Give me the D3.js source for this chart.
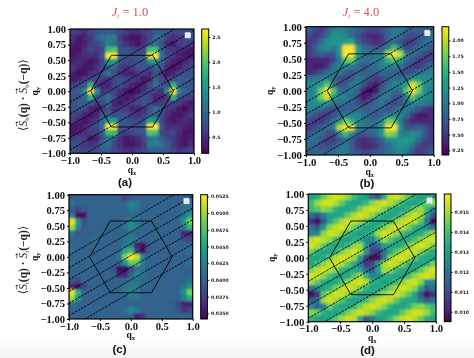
<!DOCTYPE html>
<html>
<head>
<meta charset="utf-8">
<script src="https://cdn.jsdelivr.net/npm/d3@7"></script>
<style>
  html, body { margin: 0; padding: 0; background: #fff; }
  svg { display: block; }
  text { font-family: "Liberation Serif", "DejaVu Serif", serif; }
</style>
</head>
<body>
<div id="chart"></div>
<script>
// structure factor maps, top row is qy = 1
const gridA = [
  [.7,.6,.5,.7,.8,.9,.9,.9,.7,.6,.5,.5,.6,.7,.9,.9,.8,.7,.7,.7,.8],
  [.5,.3,.4,.6,.9,1.1,1.2,1.2,.6,.4,.3,.3,.5,.7,1.1,1.0,.6,.5,.6,.7,.8],
  [.4,.3,.4,.6,.7,.9,1.2,1.1,.7,.5,.4,.3,.5,.8,1.1,.8,.4,.3,.6,.7,.6],
  [.3,.3,.5,.7,.6,.7,1.9,2.0,.8,.8,.7,.6,.7,1.9,1.9,.9,.6,.6,.5,.4,.3],
  [.3,.4,.5,.5,.5,.8,2.66,2.66,.9,.8,.8,.8,.8,2.6,2.66,1.1,.7,.6,.4,.3,.3],
  [.4,.5,.4,.3,.4,.7,1.5,1.6,.8,.7,.7,.8,.8,1.4,1.5,1.0,.6,.4,.3,.4,.6],
  [.6,.4,.3,.3,.5,.7,.9,.9,.6,.5,.6,.8,.8,.7,.9,.8,.4,.3,.4,.6,.7],
  [.4,.25,.3,.5,.6,.8,1.1,.8,.5,.4,.4,.6,.6,.5,.8,.6,.3,.4,.7,.8,.8],
  [.3,.4,.6,.7,.7,.6,.5,.7,.8,.7,.6,.5,.3,.4,1.0,.7,.6,.8,.9,.9,.8],
  [.6,.7,.8,1.8,.6,.4,.4,.7,.8,.6,.4,.3,.4,.7,1.1,.9,.8,1.8,.9,.8,.8],
  [.8,.9,1.3,2.66,1.4,.5,.6,.7,.5,.3,.2,.3,.5,.7,.6,.5,1.4,2.66,1.3,.9,.8],
  [.8,.8,.9,1.8,.8,.9,1.1,.7,.4,.3,.4,.6,.8,.7,.4,.4,.6,1.8,.8,.7,.6],
  [.8,.9,.9,.8,.6,.7,1.0,.4,.3,.5,.6,.7,.8,.7,.5,.6,.7,.7,.6,.4,.3],
  [.8,.8,.7,.4,.3,.6,.8,.5,.6,.6,.4,.4,.5,.8,1.1,.8,.6,.5,.3,.25,.4],
  [.7,.6,.4,.3,.4,.8,.9,.7,.8,.8,.6,.5,.6,.9,.9,.7,.5,.3,.3,.4,.6],
  [.6,.4,.3,.4,.6,1.0,1.5,1.6,.8,.8,.7,.7,.8,1.6,1.5,.7,.4,.3,.4,.5,.4],
  [.3,.3,.4,.6,.7,1.1,2.66,2.66,.8,.8,.8,.8,.9,2.66,2.66,.8,.5,.5,.5,.4,.3],
  [.3,.4,.5,.6,.6,.9,1.9,1.9,.7,.6,.7,.8,.8,2.0,1.9,.7,.6,.7,.5,.3,.3],
  [.6,.7,.6,.3,.4,.8,1.1,.8,.5,.3,.4,.5,.7,1.1,1.2,.9,.7,.6,.4,.3,.4],
  [.8,.7,.6,.5,.6,1.0,1.1,.7,.5,.3,.3,.4,.6,1.2,1.2,1.1,.9,.6,.4,.3,.5],
  [.8,.7,.7,.7,.8,.9,.9,.7,.6,.5,.5,.6,.7,.9,.9,.9,.8,.7,.5,.6,.7]
];
const gridB = [
  [.8,.6,.5,.7,1.0,1.1,1.0,.9,.8,.7,.6,.6,.7,.8,1.0,1.0,.9,.8,.8,.8,.8],
  [.6,.5,.6,.9,1.2,1.2,1.1,.9,.7,.5,.4,.4,.5,.8,1.0,.9,.7,.6,.7,.8,.9],
  [.5,.6,.9,1.2,1.3,1.2,1.3,1.4,.8,.6,.5,.4,.5,.8,.9,.7,.5,.5,.7,.9,.9],
  [.5,.8,1.1,1.2,1.0,1.2,2.22,2.22,1.3,.9,.8,.7,.8,1.1,1.6,1.1,.6,.7,.9,.9,.7],
  [.5,.7,.8,.7,.7,1.2,2.22,2.22,1.3,1.0,1.0,1.0,1.1,2.0,2.22,2.0,1.0,.9,.8,.6,.5],
  [.4,.4,.4,.4,.6,1.0,1.7,1.8,1.1,.9,.9,1.0,1.1,1.5,1.7,1.3,.9,.7,.5,.5,.6],
  [.4,.3,.3,.5,.9,1.1,1.1,1.0,.9,.7,.8,.9,1.1,1.1,1.0,.9,.7,.5,.5,.7,.9],
  [.4,.5,.7,.9,1.0,1.0,.8,.7,.8,.8,.8,.8,.9,.8,.8,.7,.6,.7,.9,1.0,1.1],
  [.9,1.0,1.1,1.1,.9,.7,.6,.7,1.0,.9,.7,.5,.6,.8,.9,.9,1.0,1.2,1.3,1.2,1.1],
  [1.1,1.2,1.3,1.7,1.0,.7,.7,1.0,1.0,.7,.4,.3,.6,.9,1.1,1.1,1.3,2.1,1.8,1.2,1.1],
  [1.0,1.2,1.8,2.22,1.7,.9,.9,1.0,.8,.3,.2,.3,.8,1.0,.9,.9,1.7,2.22,1.8,1.2,1.0],
  [1.1,1.2,1.8,2.1,1.3,1.1,1.1,.9,.6,.3,.4,.7,1.0,1.0,.7,.7,1.0,1.7,1.3,1.2,1.1],
  [1.1,1.2,1.3,1.2,1.0,.9,.9,.8,.6,.5,.7,.9,1.0,.7,.6,.7,.9,1.1,1.1,1.0,.9],
  [1.1,1.0,.9,.7,.6,.7,.8,.8,.9,.8,.8,.8,.8,.7,.8,1.0,1.0,.9,.7,.5,.4],
  [.9,.7,.5,.5,.7,.9,1.0,1.1,1.1,.9,.8,.7,.9,1.0,1.1,1.1,.9,.5,.3,.3,.4],
  [.6,.5,.5,.7,.9,1.3,1.8,1.5,1.1,1.0,.9,.9,1.1,1.8,1.7,1.0,.6,.4,.4,.4,.4],
  [.5,.6,.8,.9,1.0,2.0,2.22,2.2,1.1,1.0,1.0,1.0,1.3,2.22,2.22,1.2,.7,.7,.8,.7,.5],
  [.7,.9,.9,.7,.6,1.1,1.6,1.1,.8,.7,.8,.9,1.3,1.9,1.8,1.1,1.0,1.2,1.1,.8,.5],
  [.9,.9,.7,.5,.5,.7,.9,.8,.5,.4,.5,.6,.8,1.2,1.2,1.2,1.3,1.2,.9,.6,.5],
  [.9,.8,.7,.6,.7,.9,1.0,.8,.5,.4,.4,.5,.7,.9,1.1,1.2,1.2,.9,.6,.5,.6],
  [.8,.8,.8,.8,.9,1.0,1.0,.8,.7,.6,.6,.7,.8,.9,1.0,1.1,1.0,.7,.5,.6,.8]
];
// in units of 0.001
const gridC = [
  [40,40,40,40,40,40,40,40,40,38,39,40,40,40,40,40,40,40,40,40,40],
  [41,40,40,40,40,40,40,40,40,40,43,42,40,40,40,40,40,40,40,41,41],
  [39,38,39,40,40,40,40,40,40,40,42,41,40,40,40,40,40,40,40,41,41],
  [42,35,35,40,40,40,40,40,40,40,40,40,40,40,40,40,40,40,40,41,44],
  [52,44,39,40,40,40,40,40,40,41,43,42,40,40,40,40,40,40,40,44,49],
  [50,43,39,40,40,40,40,40,40,41,43,42,40,40,40,40,40,40,40,42,46],
  [42,39,40,40,40,40,40,40,40,40,41,40,40,40,40,40,40,40,40,36,36],
  [40,40,40,40,41,40,40,40,40,41,42,41,40,40,40,40,40,40,40,38,38],
  [40,40,40,40,40,40,40,40,40,41,42,36,35,39,40,40,40,40,40,40,40],
  [41,40,40,40,40,40,40,40,40,45,47,38,35,39,40,40,40,40,40,40,41],
  [40,40,40,40,40,40,40,40,41,49,52.7,51,43,40,40,40,40,40,40,40,40],
  [41,40,40,40,40,40,40,40,40,44,48,48,42,40,40,40,40,40,40,40,41],
  [40,40,40,40,40,40,40,39,35,34.5,38,41,41,40,40,40,40,40,40,40,40],
  [40,40,40,40,40,40,40,40,36,36,40,43,41,40,40,40,40,40,40,40,40],
  [39,38,40,40,40,40,40,40,40,40,41,41,40,40,40,40,40,40,40,40,41],
  [36,35,38,40,40,40,40,40,40,41,42,42,40,40,40,40,40,40,40,41,44],
  [52,46,40,40,40,40,40,40,40,41,43,42,40,40,40,40,40,40,40,44,49],
  [50,44,40,40,40,40,40,40,40,40,41,41,40,40,40,40,40,40,40,42,45],
  [41,40,40,40,40,40,40,40,40,40,40,40,40,40,40,40,40,40,38,36,36],
  [40,40,40,40,40,40,40,40,40,41,43,42,40,40,40,40,40,40,39,37,38],
  [40,40,40,40,40,40,40,40,40,40,40,36,37,40,40,40,40,40,40,40,40]
];
// in units of 0.0001
const gridD = [
  [132,134,144,151,155,153,148,139,133,131,118,112,135,152,154,150,142,134,131,132,137],
  [139,149,154,155,151,143,134,132,133,138,147,152,155,151,145,136,132,132,136,144,147],
  [138,142,148,145,136,132,132,136,146,152,155,152,146,136,132,132,136,145,150,138,125],
  [118,112,122,132,132,134,143,151,155,153,148,139,133,131,134,142,150,154,150,130,112],
  [104,97,112,132,142,150,154,154,150,142,134,131,133,139,148,153,155,151,142,120,97],
  [118,112,130,147,153,155,151,145,136,132,132,136,146,152,155,152,146,136,132,124,118],
  [124,125,147,155,153,147,138,133,131,134,136,151,155,153,148,139,133,131,134,142,150],
  [151,155,153,148,139,133,131,134,134,128,124,137,150,142,134,131,133,139,148,153,155],
  [155,151,143,134,132,133,138,148,150,130,112,116,132,132,132,136,146,152,155,152,146],
  [145,136,132,132,136,146,152,155,150,130,108,104,120,134,143,151,155,153,148,139,133],
  [133,131,134,143,151,155,154,149,130,105,96,97,120,147,154,155,151,143,134,132,133],
  [133,139,148,153,155,151,143,134,120,104,108,130,150,155,152,146,136,132,132,136,145],
  [146,152,155,152,146,136,132,132,132,116,112,130,150,148,138,133,132,134,143,151,155],
  [155,153,148,139,133,131,134,142,150,137,124,128,134,134,131,133,139,148,153,155,151],
  [150,142,134,131,133,139,148,153,155,151,136,134,131,133,138,147,153,155,147,125,124],
  [118,124,132,136,146,152,155,152,146,136,132,132,136,145,151,155,153,147,130,112,118],
  [97,105,142,151,155,153,148,139,133,131,134,142,150,154,154,150,142,132,112,97,104],
  [112,118,150,154,150,142,134,131,133,139,148,153,155,151,143,134,132,132,122,112,118],
  [125,116,122,145,136,132,132,136,146,152,155,152,146,136,132,132,136,145,148,142,138],
  [147,144,136,132,132,136,145,151,155,152,147,138,133,132,134,143,151,155,154,149,139],
  [137,132,131,134,142,150,154,152,135,112,118,131,133,139,148,153,155,151,144,134,132]
];

// colour ranges of the four bars
const rangeA = [0.18, 2.66];
const rangeB = [0.175, 2.22];
const rangeC = [34.15, 52.76];
const rangeD = [95, 159];

// tick labels
const qxTicks = [-1, -0.5, 0, 0.5, 1];
const qyTicks = [-1, -0.75, -0.5, -0.25, 0, 0.25, 0.5, 0.75, 1];
const barTicksA = [0.5, 1, 1.5, 2, 2.5];
const barTicksB = [0.25, 0.5, 0.75, 1, 1.25, 1.5, 1.75, 2];
const barTicksC = [35, 37.5, 40, 42.5, 45, 47.5, 50, 52.5];
const barTicksD = [100, 110, 120, 130, 140, 150];

// brillouin zone corners and the dashed cuts y = slope * x + offset
const hexQx = [-0.667, -0.333, 0.333, 0.667, 0.333, -0.333];
const hexQy = [0, 0.577, 0.577, 0, -0.577, -0.577];
const cutOffsets = [0.6, 0.4, 0.21, 0.02, -0.17, -0.37, -0.57];
const cutSlope = 0.577;

const fmtMinus = function (s) { return s.replace('-', '\u2212'); };

let panels = [
  { id: 'a', grid: gridA, range: rangeA, barTicks: barTicksA, barFmt: function (d) { return d.toFixed(1); }, blur: 1.0,
    left: 70, top: 29, w: 124, h: 124.3, barX: 201.7, barW: 7, tickFs: 10.6, capX: 125, capY: 186, qxY: 173, qyX: 38, yl: 'b', ylX: 27, ylY: 95, title: '1.0', titleX: 130 },
  { id: 'b', grid: gridB, range: rangeB, barTicks: barTicksB, barFmt: function (d) { return d.toFixed(2); }, blur: 1.4,
    left: 306, top: 26.7, w: 127.7, h: 128.3, barX: 442, barW: 6.8, tickFs: 10.8, capX: 367, capY: 187, qxY: 175, qyX: 273, title: '4.0', titleX: 361 },
  { id: 'c', grid: gridC, range: rangeC, barTicks: barTicksC, barFmt: function (d) { return (d / 1000).toFixed(4); }, blur: 1.3,
    left: 69, top: 194.7, w: 123.7, h: 124.3, barX: 200.7, barW: 6.7, tickFs: 10.6, capX: 119.5, capY: 353, qxY: 338, qyX: 38, yl: 't', ylX: 27, ylY: 260 },
  { id: 'd', grid: gridD, range: rangeD, barTicks: barTicksD, barFmt: function (d) { return (d / 10000).toFixed(3); }, blur: 1.2,
    left: 308.3, top: 194, w: 127.7, h: 127.7, barX: 444.3, barW: 6.7, tickFs: 10.8, capX: 367.5, capY: 353.5, qxY: 341, qyX: 275 }
];

let svg = d3.select('#chart').append('svg')
  .attr('width', 474)
  .attr('height', 358);

let defs = svg.append('defs');

defs.append('filter').attr('id', 'scan')
  .attr('x', '-5%').attr('y', '-5%').attr('width', '110%').attr('height', '110%')
  .append('feGaussianBlur').attr('stdDeviation', 0.3);

// pale band at the bottom of the page
let pale = defs.append('linearGradient').attr('id', 'pale').attr('x1', 0).attr('y1', 0).attr('x2', 0).attr('y2', 1);
pale.append('stop').attr('offset', 0).attr('stop-color', '#fff');
pale.append('stop').attr('offset', 1).attr('stop-color', '#f3f3f3');
svg.append('rect').attr('x', 0).attr('y', 338).attr('width', 474).attr('height', 20).attr('fill', 'url(#pale)');

let root = svg.append('g').attr('filter', 'url(#scan)');

panels.forEach(drawPanel);

function drawPanel(p) {
  let x = d3.scaleLinear().domain([-1, 1]).range([0, p.w]);
  let y = d3.scaleLinear().domain([-1, 1]).range([p.h, 0]);
  let n = p.grid.length;
  let bandX = d3.scaleBand().domain(d3.range(n)).range([0, p.w]);
  let bandY = d3.scaleBand().domain(d3.range(n)).range([0, p.h]);
  let color = d3.scaleSequential(d3.interpolateViridis).domain(p.range);

  let g = root.append('g').attr('transform', 'translate(' + p.left + ',' + p.top + ')');

  defs.append('clipPath').attr('id', 'clip-' + p.id)
    .append('rect').attr('width', p.w).attr('height', p.h);

  defs.append('filter').attr('id', 'soft-' + p.id)
    .attr('x', '-5%').attr('y', '-5%').attr('width', '110%').attr('height', '110%')
    .append('feGaussianBlur').attr('stdDeviation', p.blur);

  let cells = [];
  p.grid.forEach(function (row, r) {
    row.forEach(function (v, c) { cells.push({ r: r, c: c, v: v }); });
  });

  let plot = g.append('g').attr('clip-path', 'url(#clip-' + p.id + ')');

  // sharp copy under the blurred one so the edges do not fade
  [null, 'url(#soft-' + p.id + ')'].forEach(function (f) {
    plot.append('g').attr('filter', f)
      .selectAll('rect').data(cells).enter().append('rect')
      .attr('x', function (d) { return bandX(d.c); })
      .attr('y', function (d) { return bandY(d.r); })
      .attr('width', bandX.bandwidth() + 0.5)
      .attr('height', bandY.bandwidth() + 0.5)
      .attr('fill', function (d) { return color(d.v); });
  });

  // dashed cuts
  plot.selectAll('.cut').data(cutOffsets).enter().append('line')
    .attr('class', 'cut')
    .attr('x1', x(-1))
    .attr('x2', x(1))
    .attr('y1', function (c) { return y(cutSlope * -1 + c); })
    .attr('y2', function (c) { return y(cutSlope * 1 + c); })
    .attr('stroke', '#000')
    .attr('stroke-width', 0.9)
    .attr('stroke-dasharray', '2.4,1.1');

  // hexagon
  let hexLine = d3.line()
    .x(function (d) { return x(d[0]); })
    .y(function (d) { return y(d[1]); })
    .curve(d3.curveLinearClosed);
  plot.append('path')
    .attr('d', hexLine(d3.zip(hexQx, hexQy)))
    .attr('fill', 'none')
    .attr('stroke', '#000')
    .attr('stroke-width', 0.9);

  // empty legend box
  plot.append('rect')
    .attr('x', x(0.9) - 3)
    .attr('y', y(0.9) - 3)
    .attr('width', 6)
    .attr('height', 6)
    .attr('rx', 1)
    .attr('fill', '#e8eaf2');

  g.append('rect')
    .attr('width', p.w)
    .attr('height', p.h)
    .attr('fill', 'none')
    .attr('stroke', '#000')
    .attr('stroke-width', 1.2);

  // axes
  let xAxis = d3.axisBottom(x).tickValues(qxTicks).tickSize(2).tickPadding(1)
    .tickFormat(function (d) { return fmtMinus(d.toFixed(1)); });
  let yAxis = d3.axisLeft(y).tickValues(qyTicks).tickSize(2).tickPadding(2)
    .tickFormat(function (d) { return fmtMinus(d.toFixed(2)); });

  let xg = g.append('g').attr('transform', 'translate(0,' + p.h + ')').call(xAxis);
  let yg = g.append('g').call(yAxis);
  [xg, yg].forEach(function (a) {
    a.select('.domain').remove();
    a.selectAll('text')
      .style('font-family', '"Liberation Serif", serif')
      .style('font-size', p.tickFs + 'px')
      .style('font-weight', 'bold')
      .attr('fill', '#111');
  });

  // axis names
  let qx = root.append('text')
    .attr('x', p.left + p.w / 2)
    .attr('y', p.qxY)
    .attr('text-anchor', 'middle')
    .attr('font-size', 9.5)
    .attr('font-weight', 'bold')
    .attr('fill', '#111');
  qx.append('tspan').text('q');
  qx.append('tspan').attr('font-size', 6.5).attr('dy', 1.5).text('x');

  let qy = root.append('text')
    .attr('transform', 'translate(' + p.qyX + ',' + (p.top + p.h / 2) + ') rotate(-90)')
    .attr('text-anchor', 'middle')
    .attr('font-size', 9.5)
    .attr('font-weight', 'bold')
    .attr('fill', '#111');
  qy.append('tspan').text('q');
  qy.append('tspan').attr('font-size', 6.5).attr('dy', 1.5).text('y');

  // panel letter
  root.append('text')
    .attr('x', p.capX)
    .attr('y', p.capY)
    .attr('text-anchor', 'middle')
    .attr('font-size', 11.5)
    .attr('font-weight', 'bold')
    .attr('fill', '#111')
    .style('font-family', '"Liberation Sans", sans-serif')
    .text('(' + p.id + ')');

  // colour bar
  let barScale = d3.scaleLinear().domain(p.range).range([p.h, 0]);
  let grad = defs.append('linearGradient').attr('id', 'bar-' + p.id)
    .attr('x1', 0).attr('y1', 1).attr('x2', 0).attr('y2', 0);
  d3.range(0, 1.01, 0.1).forEach(function (t) {
    grad.append('stop').attr('offset', t).attr('stop-color', d3.interpolateViridis(t));
  });
  let bar = root.append('g').attr('transform', 'translate(' + p.barX + ',' + p.top + ')');
  bar.append('rect')
    .attr('width', p.barW)
    .attr('height', p.h)
    .attr('fill', 'url(#bar-' + p.id + ')')
    .attr('stroke', '#000')
    .attr('stroke-width', 1);
  let barAxis = d3.axisRight(barScale).tickValues(p.barTicks).tickSize(1.5).tickPadding(2).tickFormat(p.barFmt);
  let bg = bar.append('g').attr('transform', 'translate(' + p.barW + ',0)').call(barAxis);
  bg.select('.domain').remove();
  bg.selectAll('text')
    .style('font-family', '"DejaVu Sans", sans-serif')
    .style('font-size', '4.6px')
    .style('font-weight', 'bold')
    .attr('fill', '#222');

  // title
  if (p.title) {
    let t = root.append('text')
      .attr('x', p.titleX)
      .attr('y', 16)
      .attr('text-anchor', 'middle')
      .attr('font-size', 12.5)
      .attr('fill', '#d8505c');
    t.append('tspan').attr('font-style', 'italic').text('J');
    t.append('tspan').attr('font-style', 'italic').attr('font-size', 7).attr('dy', 2).text('t');
    t.append('tspan').attr('dy', -2).text(' = ' + p.title);
  }

  // rotated y label, arrows go over the S afterwards
  if (p.yl) {
    let ylG = root.append('g')
      .attr('transform', 'translate(' + p.ylX + ',' + p.ylY + ') rotate(-90)');
    let yl = ylG.append('text')
      .attr('text-anchor', 'middle')
      .attr('font-size', 11.5)
      .attr('fill', '#222');
    yl.append('tspan').text('\u27E8');
    yl.append('tspan').attr('font-style', 'italic').text('S');
    yl.append('tspan').attr('font-size', 7).attr('dy', 2).text(p.yl);
    yl.append('tspan').attr('dy', -2).attr('font-weight', 'bold').text('(q) \u00B7 ');
    yl.append('tspan').attr('font-style', 'italic').text('S');
    yl.append('tspan').attr('font-size', 7).attr('dy', 2).text(p.yl);
    yl.append('tspan').attr('dy', -2).attr('font-weight', 'bold').text('(\u2212q)');
    yl.append('tspan').text('\u27E9');

    let str = yl.text();
    [1, str.indexOf('S', 2)].forEach(function (i) {
      let pos = yl.node().getStartPositionOfChar(i);
      ylG.append('text')
        .attr('x', pos.x - 0.5)
        .attr('y', pos.y - 8.5)
        .attr('font-size', 7)
        .attr('fill', '#222')
        .style('font-family', '"DejaVu Sans", sans-serif')
        .text('\u2192');
    });
  }
}
</script>
</body>
</html>
